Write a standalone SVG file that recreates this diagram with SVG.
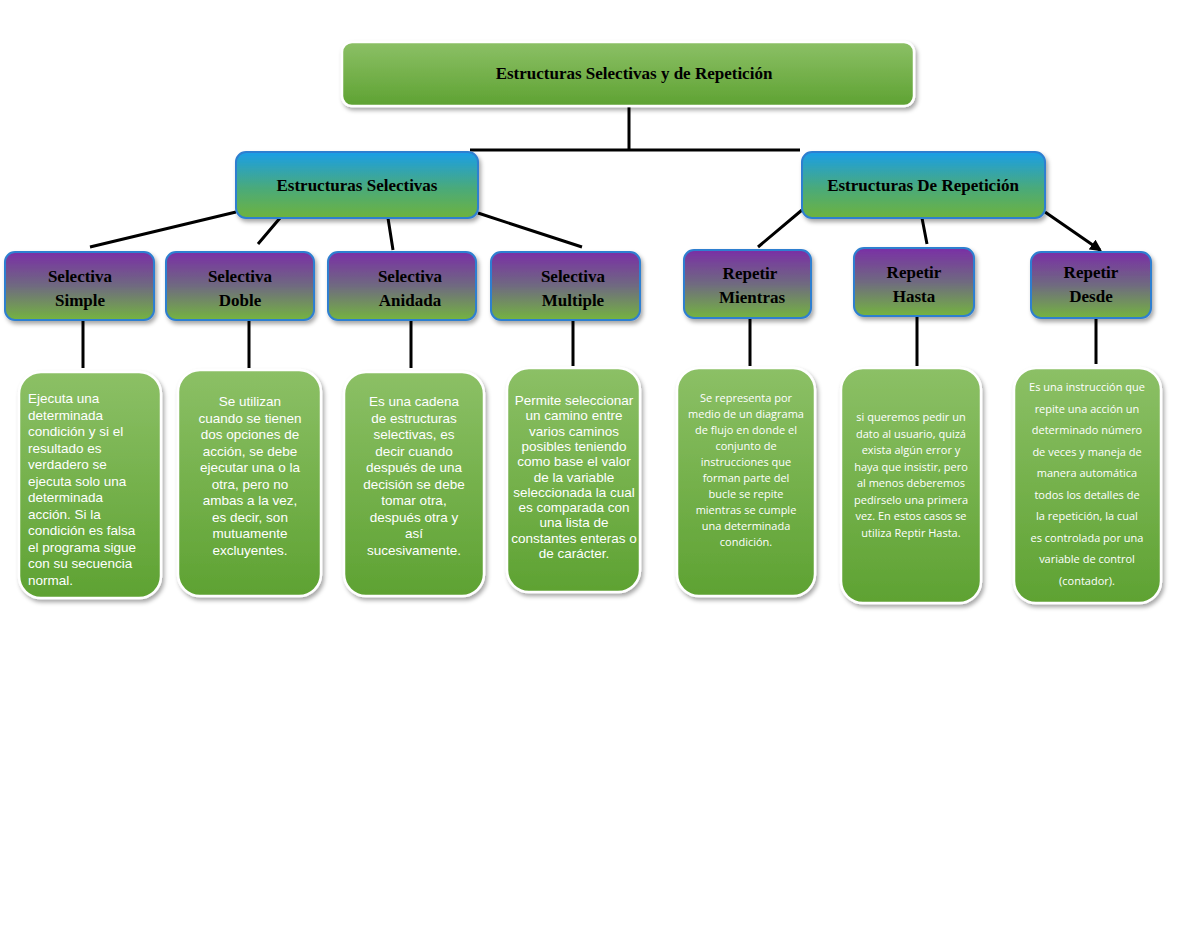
<svg xmlns="http://www.w3.org/2000/svg" width="1200" height="927" viewBox="0 0 1200 927">
<defs>
<linearGradient id="gg" x1="0" y1="0" x2="0" y2="1"><stop offset="0" stop-color="#8cc066"/><stop offset="1" stop-color="#5ea232"/></linearGradient>
<linearGradient id="gb" x1="0" y1="0" x2="0" y2="1"><stop offset="0" stop-color="#1a9ee8"/><stop offset="0.55" stop-color="#4aaa7a"/><stop offset="1" stop-color="#6eb33e"/></linearGradient>
<linearGradient id="gp" x1="0" y1="0" x2="0" y2="1"><stop offset="0" stop-color="#7a2fa6"/><stop offset="0.5" stop-color="#6f6a80"/><stop offset="1" stop-color="#74b440"/></linearGradient>
<filter id="sh" x="-10%" y="-10%" width="130%" height="130%"><feDropShadow dx="2" dy="3" stdDeviation="2" flood-color="#000" flood-opacity="0.35"/></filter>
<marker id="ar" viewBox="0 0 10 10" refX="8" refY="5" markerWidth="4" markerHeight="4" orient="auto"><path d="M0,0L10,5L0,10z" fill="#000"/></marker>
</defs>
<style>
.b{stroke:#fff;stroke-width:2.5;filter:url(#sh)}
.p{stroke:#2f7fd0;stroke-width:2;filter:url(#sh)}
.h{font-family:"Liberation Serif",serif;font-weight:bold;font-size:17px;text-anchor:middle;fill:#000}
.t{font-family:"Liberation Sans",sans-serif;font-size:13.5px;fill:#fff}
.c{text-anchor:middle}
.s{font-family:"Open Sans","Liberation Sans",sans-serif;font-size:11px;fill:#fff;text-anchor:middle}
.l{stroke:#000;stroke-width:3;fill:none}
</style>
<rect width="1200" height="927" fill="#fff"/>
<g id="connectors">
<path class="l" d="M629,106V150M470,150H800"/>
<path class="l" marker-end="url(#ar)" d="M236,212L90,247M280,218L258,244M388,218L393,250M478,213L582,247M802,210L758,247M922,218L927,244M1045,212L1100,250"/>
<path class="l" d="M83,320V368M249,320V368M411,320V368M573,320V366M750,318V366M917,316V366M1096,318V364"/>
</g>
<g id="root"><rect class="b" x="342" y="42" width="572" height="64" rx="10" fill="url(#gg)"/><text class="h" x="634" y="79">Estructuras Selectivas y de Repetición</text></g>
<g id="sel"><rect class="p" x="236" y="152" width="242" height="66" rx="10" fill="url(#gb)"/><text class="h" x="357" y="191">Estructuras Selectivas</text></g>
<g id="rep"><rect class="p" x="802" y="152" width="243" height="66" rx="10" fill="url(#gb)"/><text class="h" x="923" y="191">Estructuras De Repetición</text></g>
<g id="n1"><rect class="p" x="5" y="252" width="149" height="68" rx="10" fill="url(#gp)"/><text class="h" x="80" y="282">Selectiva</text><text class="h" x="80" y="306">Simple</text></g>
<g id="n2"><rect class="p" x="166" y="252" width="148" height="68" rx="10" fill="url(#gp)"/><text class="h" x="240" y="282">Selectiva</text><text class="h" x="240" y="306">Doble</text></g>
<g id="n3"><rect class="p" x="328" y="252" width="148" height="68" rx="10" fill="url(#gp)"/><text class="h" x="410" y="282">Selectiva</text><text class="h" x="410" y="306">Anidada</text></g>
<g id="n4"><rect class="p" x="491" y="252" width="149" height="68" rx="10" fill="url(#gp)"/><text class="h" x="573" y="282">Selectiva</text><text class="h" x="573" y="306">Multiple</text></g>
<g id="n5"><rect class="p" x="684" y="250" width="127" height="68" rx="10" fill="url(#gp)"/><text class="h" x="750" y="279">Repetir</text><text class="h" x="752" y="303">Mientras</text></g>
<g id="n6"><rect class="p" x="854" y="248" width="120" height="68" rx="10" fill="url(#gp)"/><text class="h" x="914" y="278">Repetir</text><text class="h" x="914" y="302">Hasta</text></g>
<g id="n7"><rect class="p" x="1031" y="252" width="120" height="66" rx="10" fill="url(#gp)"/><text class="h" x="1091" y="278">Repetir</text><text class="h" x="1091" y="302">Desde</text></g>
<g id="d1"><rect class="b" x="19" y="372" width="142" height="226" rx="22" fill="url(#gg)"/>
<text class="t" x="28" y="403"><tspan x="28">Ejecuta una</tspan><tspan x="28" dy="16.5">determinada</tspan><tspan x="28" dy="16.5">condición y si el</tspan><tspan x="28" dy="16.5">resultado es</tspan><tspan x="28" dy="16.5">verdadero se</tspan><tspan x="28" dy="16.5">ejecuta solo una</tspan><tspan x="28" dy="16.5">determinada</tspan><tspan x="28" dy="16.5">acción.  Si la</tspan><tspan x="28" dy="16.5">condición es falsa</tspan><tspan x="28" dy="16.5">el programa sigue</tspan><tspan x="28" dy="16.5">con su secuencia</tspan><tspan x="28" dy="16.5">normal.</tspan></text></g>
<g id="d2"><rect class="b" x="178" y="370" width="143" height="226" rx="22" fill="url(#gg)"/>
<text class="t c" x="250" y="406"><tspan x="250">Se utilizan</tspan><tspan x="250" dy="16.5">cuando se tienen</tspan><tspan x="250" dy="16.5">dos opciones de</tspan><tspan x="250" dy="16.5">acción, se debe</tspan><tspan x="250" dy="16.5">ejecutar una o la</tspan><tspan x="250" dy="16.5">otra, pero no</tspan><tspan x="250" dy="16.5">ambas a la vez,</tspan><tspan x="250" dy="16.5">es decir, son</tspan><tspan x="250" dy="16.5">mutuamente</tspan><tspan x="250" dy="16.5">excluyentes.</tspan></text></g>
<g id="d3"><rect class="b" x="344" y="372" width="140" height="224" rx="22" fill="url(#gg)"/>
<text class="t c" x="414" y="406"><tspan x="414">Es una cadena</tspan><tspan x="414" dy="16.5">de estructuras</tspan><tspan x="414" dy="16.5">selectivas, es</tspan><tspan x="414" dy="16.5">decir cuando</tspan><tspan x="414" dy="16.5">después de una</tspan><tspan x="414" dy="16.5">decisión se debe</tspan><tspan x="414" dy="16.5">tomar otra,</tspan><tspan x="414" dy="16.5">después otra y</tspan><tspan x="414" dy="16.5">así</tspan><tspan x="414" dy="16.5">sucesivamente.</tspan></text></g>
<g id="d4"><rect class="b" x="507" y="368" width="133" height="224" rx="22" fill="url(#gg)"/>
<text class="t c" x="574" y="405" font-size="12"><tspan x="574">Permite seleccionar</tspan><tspan x="574" dy="15.3">un camino entre</tspan><tspan x="574" dy="15.3">varios caminos</tspan><tspan x="574" dy="15.3">posibles teniendo</tspan><tspan x="574" dy="15.3">como base el valor</tspan><tspan x="574" dy="15.3">de la variable</tspan><tspan x="574" dy="15.3">seleccionada la cual</tspan><tspan x="574" dy="15.3">es comparada con</tspan><tspan x="574" dy="15.3">una lista de</tspan><tspan x="574" dy="15.3">constantes enteras o</tspan><tspan x="574" dy="15.3">de carácter.</tspan></text></g>
<g id="d5"><rect class="b" x="677" y="368" width="138" height="228" rx="22" fill="url(#gg)"/>
<text class="s" x="746" y="402"><tspan x="746">Se representa por</tspan><tspan x="746" dy="16">medio de un diagrama</tspan><tspan x="746" dy="16">de flujo en donde el</tspan><tspan x="746" dy="16">conjunto de</tspan><tspan x="746" dy="16">instrucciones que</tspan><tspan x="746" dy="16">forman parte del</tspan><tspan x="746" dy="16">bucle se repite</tspan><tspan x="746" dy="16">mientras se cumple</tspan><tspan x="746" dy="16">una determinada</tspan><tspan x="746" dy="16">condición.</tspan></text></g>
<g id="d6"><rect class="b" x="841" y="368" width="140" height="235" rx="22" fill="url(#gg)"/>
<text class="s" x="911" y="421"><tspan x="911">si queremos pedir un</tspan><tspan x="911" dy="16.5">dato al usuario, quizá</tspan><tspan x="911" dy="16.5">exista algún error y</tspan><tspan x="911" dy="16.5">haya que insistir, pero</tspan><tspan x="911" dy="16.5">al menos deberemos</tspan><tspan x="911" dy="16.5">pedírselo una primera</tspan><tspan x="911" dy="16.5">vez. En estos casos se</tspan><tspan x="911" dy="16.5">utiliza Reptir Hasta.</tspan></text></g>
<g id="d7"><rect class="b" x="1014" y="368" width="147" height="235" rx="22" fill="url(#gg)"/>
<text class="s" x="1087" y="391"><tspan x="1087">Es una instrucción que</tspan><tspan x="1087" dy="21.5">repite una acción un</tspan><tspan x="1087" dy="21.5">determinado número</tspan><tspan x="1087" dy="21.5">de veces y maneja de</tspan><tspan x="1087" dy="21.5">manera automática</tspan><tspan x="1087" dy="21.5">todos los detalles de</tspan><tspan x="1087" dy="21.5">la repetición, la cual</tspan><tspan x="1087" dy="21.5">es controlada por una</tspan><tspan x="1087" dy="21.5">variable de control</tspan><tspan x="1087" dy="21.5">(contador).</tspan></text></g>
</svg>
